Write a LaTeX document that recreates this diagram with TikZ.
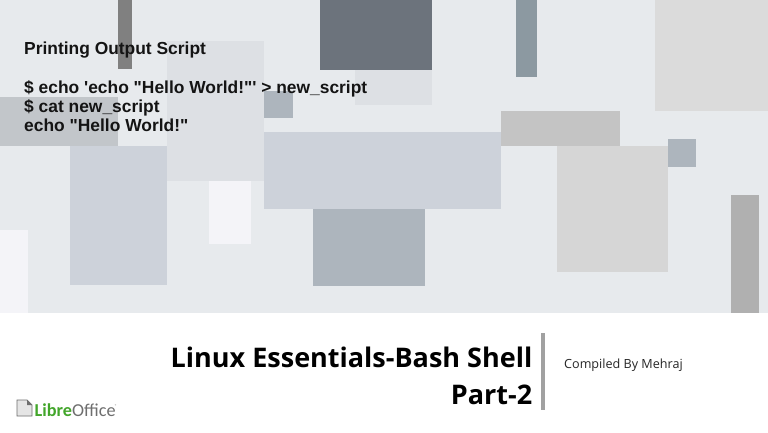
\documentclass[tikz,border=0pt]{standalone}
\usepackage{fontspec}
\newfontfamily\codefont{Liberation Sans}
\newfontfamily\titlefont{Open Sans}
\newfontfamily\logofont{Carlito}
\definecolor{backcol}{HTML}{E7EAED}
\definecolor{slatecol}{HTML}{6C737C}
\definecolor{palecol}{HTML}{DDE0E4}
\definecolor{bluecol}{HTML}{CDD2DA}
\definecolor{steelcol}{HTML}{ADB5BD}
\definecolor{tealcol}{HTML}{8C99A1}
\definecolor{whitecol}{HTML}{F4F4F8}
\definecolor{ashcol}{HTML}{C2C6CA}
\definecolor{logogreen}{HTML}{43A62B}
\definecolor{logogrey}{HTML}{6E6E6E}
\tikzset{
  codeline/.style={anchor=base west, inner sep=0pt, font=\codefont\fontsize{17.4}{19}\selectfont\bfseries, text=black!92},
  titleline/.style={anchor=base east, inner sep=0pt, font=\titlefont\fontsize{27}{32}\selectfont\bfseries},
}

\begin{document}
\begin{tikzpicture}[x=1pt, y=-1pt]
            \useasboundingbox (0,0) rectangle (768,432);
            \fill[white] (0,0) rectangle (768,432);
            \fill[backcol] (0,0) rectangle (768,313);

            % blocks on the left
            \fill[palecol] (167,41) rectangle (264,181);
            \fill[gray] (118,0) rectangle (132,69);
            \fill[ashcol] (0,97) rectangle (118,146);
            \fill[bluecol] (70,146) rectangle (167,285);
            \fill[whitecol] (209,181) rectangle (251,244);
            \fill[whitecol] (0,230) rectangle (28,313);

            % blocks in the middle
            \fill[slatecol] (320,0) rectangle (432,69.5);
            \fill[palecol] (355,70) rectangle (432,105);
            \fill[steelcol] (264,91) rectangle (293,118);
            \fill[bluecol] (264,132) rectangle (501,209);
            \fill[steelcol] (313,209) rectangle (425,285.5);

            % blocks on the right
            \fill[tealcol] (515.5,0) rectangle (536.5,76.5);
            \fill[black!23] (501,111) rectangle (620,146);
            \fill[black!16] (557,146) rectangle (668,271.5);
            \fill[steelcol] (668,139) rectangle (696,167);
            \fill[black!14] (655,0) rectangle (768,111);
            \fill[black!31] (731,195) rectangle (759,313);

            % text on the blocks
            \node[codeline] (heading) at (24,54) {Printing Output Script};
            \node[codeline] (echoline) at (24,93) {\$ echo 'echo "Hello World!"' > new\_script};
            \node[codeline] (catline) at (24,112.2) {\$ cat new\_script};
            \node[codeline] (outline) at (24,131.4) {echo "Hello World!"};

            % title
            \fill[black!37] (541,333) rectangle (545,410);
            \node[titleline] (title) at (532.5,367) {Linux Essentials-Bash Shell};
            \node[titleline] (part) at (532.5,404) {Part-2};
            \node[anchor=base west, inner sep=0pt, font=\titlefont\fontsize{12.6}{15}\selectfont, text=black!85] (author) at (564,368.5) {Compiled By Mehraj};

            % logo
            \draw[logogrey, fill=black!10, line width=0.8pt] (17,400) -- (27,400) -- (32,405) -- (32,416) -- (17,416) -- cycle;
            \fill[logogrey] (27,400) -- (32,405) -- (27,405) -- cycle;
            \node[anchor=base west, inner sep=0pt, font=\logofont\fontsize{18.2}{20}\selectfont] (logo) at (34.5,416) {\textcolor{logogreen}{\bfseries Libre}\textcolor{logogrey}{Office}};
            \node[anchor=center, inner sep=0pt, font=\logofont\fontsize{4}{5}\selectfont, text=logogrey] (mark) at (116,406) {®};
\end{tikzpicture}
\end{document}
